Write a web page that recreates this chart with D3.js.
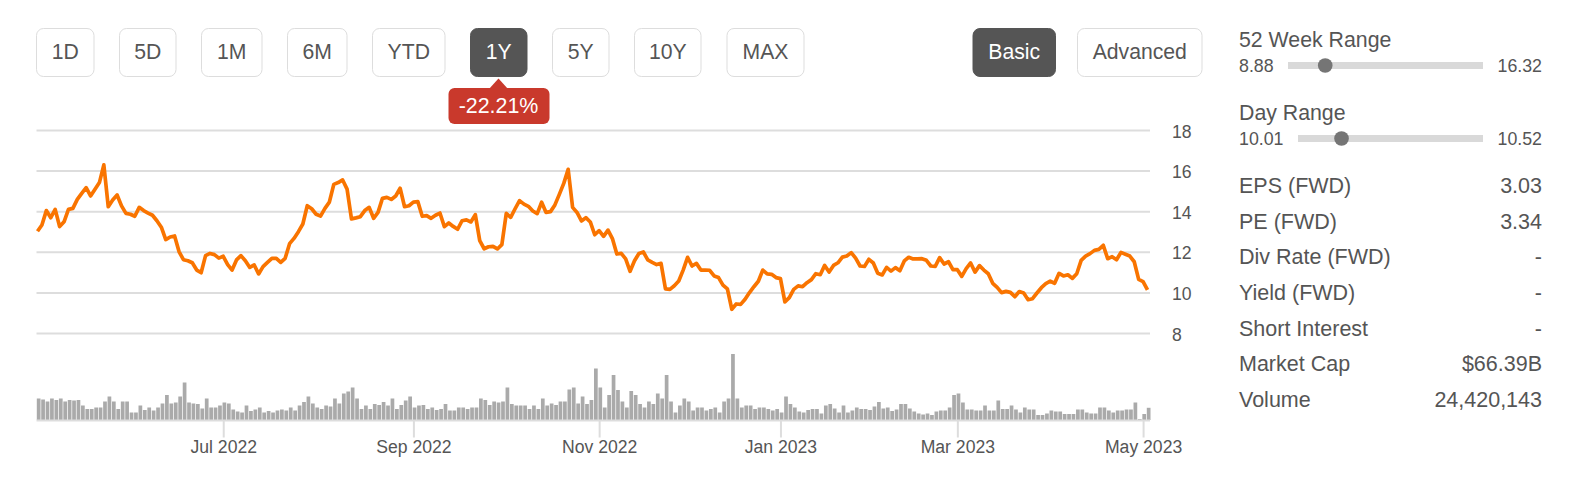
<!DOCTYPE html>
<html>
<head>
<meta charset="utf-8">
<script src="https://cdn.jsdelivr.net/npm/d3@7"></script>
<style>
  html, body { margin: 0; padding: 0; background: #fff; }
  text { font-family: "Liberation Sans", Arial, sans-serif; fill: #555; }
</style>
</head>
<body>
<div id="chart"></div>
<script>
const rangeLabels = ['1D', '5D', '1M', '6M', 'YTD', '1Y', '5Y', '10Y', 'MAX']
const modeLabels = ['Basic', 'Advanced']
const activeLabels = ['1Y', 'Basic']
const changeLabel = '-22.21%'

const priceTicks = [8, 10, 12, 14, 16, 18]
const dateTickDays = [42, 85, 127, 168, 208, 250]
const dateTickLabels = ['Jul 2022', 'Sep 2022', 'Nov 2022', 'Jan 2023', 'Mar 2023', 'May 2023']

// one close per trading day
const closes = [
  13.01,13.32,14.03,13.68,14.09,13.24,13.48,14.09,14.14,14.58,
  14.88,15.16,14.75,15.08,15.41,16.28,14.22,14.55,14.80,14.26,
  13.89,13.85,13.75,14.19,14.03,13.91,13.80,13.53,13.21,12.60,
  12.73,12.78,12.01,11.61,11.56,11.46,11.10,10.97,11.81,11.92,
  11.86,11.69,11.78,11.37,11.10,11.60,11.81,11.56,11.23,11.35,
  10.91,11.27,11.48,11.68,11.68,11.48,11.68,12.40,12.66,12.99,
  13.37,14.27,14.12,13.85,13.76,14.14,14.45,15.32,15.41,15.54,
  15.09,13.62,13.67,13.73,14.03,14.19,13.65,13.94,14.63,14.68,
  14.58,14.75,15.13,14.22,14.27,14.45,14.47,13.75,13.78,13.65,
  13.80,13.91,13.24,13.42,13.25,13.11,13.53,13.57,13.47,13.83,
  12.55,12.15,12.25,12.27,12.14,12.35,13.89,13.70,14.12,14.52,
  14.35,14.24,14.01,13.88,14.44,13.94,13.98,14.31,14.83,15.37,
  16.06,14.19,13.94,13.52,13.68,13.47,12.84,13.04,12.76,13.07,
  12.65,11.89,11.92,11.65,11.04,11.56,11.92,11.99,11.60,11.48,
  11.37,11.43,10.17,10.15,10.33,10.56,11.10,11.73,11.30,11.43,
  11.10,11.10,11.09,10.81,10.73,10.36,10.17,9.17,9.43,9.41,
  9.66,9.99,10.28,10.55,11.10,10.91,10.89,10.73,10.68,9.53,
  9.74,10.15,10.32,10.28,10.48,10.63,10.92,10.87,11.33,11.00,
  11.33,11.46,11.74,11.79,11.96,11.69,11.30,11.28,11.63,11.45,
  10.94,10.86,11.23,11.05,11.22,11.07,11.55,11.73,11.65,11.65,
  11.66,11.58,11.30,11.28,11.71,11.40,11.51,11.12,11.12,10.79,
  11.17,11.45,11.00,11.32,11.10,10.92,10.45,10.25,9.99,10.05,
  10.00,9.79,10.04,9.97,9.64,9.69,9.97,10.23,10.43,10.55,
  10.45,10.94,10.81,10.87,10.69,10.92,11.58,11.79,11.91,12.07,
  12.12,12.32,11.66,11.76,11.61,11.97,11.88,11.79,11.51,10.64,
  10.53,10.12
]

// volume in millions of shares
const volumes = [
  43,41,37,43,40,43,37,40,39,40,29,22,22,25,25,37,47,37,22,37,37,15,15,29,20,25,19,25,33,50,33,35,47,75,
  35,33,32,23,43,25,25,29,35,33,21,17,15,29,18,21,25,15,18,15,19,21,19,25,19,29,36,47,33,25,22,29,27,
  43,33,53,57,65,43,22,29,22,32,30,36,29,43,22,30,39,47,25,
  29,30,22,25,20,22,32,19,19,25,25,22,25,25,43,40,30,37,35,37,65,32,29,29,29,22,29,22,43,29,33,30,37,37,61,65,33,47,32,40,
  103,65,25,50,90,60,37,25,58,50,32,25,37,32,53,43,90,37,15,29,43,37,19,25,25,19,22,25,15,37,43,132,43,25,29,29,22,25,25,22,19,22,15,47,32,
  25,17,15,20,22,22,13,29,32,23,15,29,15,19,25,22,22,20,27,36,23,25,18,21,32,32,23,17,13,11,
  13,10,17,19,19,25,50,53,35,21,21,19,19,29,19,19,39,22,22,29,21,15,25,21,21,10,10,13,19,17,
  17,12,12,12,21,21,15,13,13,25,25,19,15,19,19,21,21,35,2,12,24.42
]

const rangeTitles = ['52 Week Range', 'Day Range']
const rangeLows = [8.88, 10.01]
const rangeHighs = [16.32, 10.52]
const rangeMarkers = [10.3, 10.13]

const statNames = ['EPS (FWD)', 'PE (FWD)', 'Div Rate (FWD)', 'Yield (FWD)', 'Short Interest', 'Market Cap', 'Volume']
const statValues = ['3.03', '3.34', '-', '-', '-', '$66.39B', '24,420,143']

const width = 1587
const height = 479
const days = d3.range(closes.length)

const svg = d3.select('#chart').append('svg')
  .attr('width', width)
  .attr('height', height)
  .style('display', 'block')

// buttons across the top
const buttonEdges = [[36.5, 94], [119.5, 176], [201.5, 262], [287.5, 347], [372.5, 445], [470.5, 527], [552.5, 609], [634.5, 701], [727, 804], [973, 1055.5], [1077.5, 1202]]
const buttons = svg.append('g')
  .selectAll('g')
  .data(rangeLabels.concat(modeLabels))
  .join('g')
  .attr('transform', (d, i) => `translate(${buttonEdges[i][0]}, 28.5)`)

buttons.append('rect')
  .attr('width', (d, i) => buttonEdges[i][1] - buttonEdges[i][0])
  .attr('height', 48)
  .attr('rx', 7)
  .attr('fill', d => activeLabels.includes(d) ? '#555' : '#fff')
  .attr('stroke', d => activeLabels.includes(d) ? '#555' : '#ddd')

buttons.append('text')
  .attr('x', (d, i) => (buttonEdges[i][1] - buttonEdges[i][0]) / 2)
  .attr('y', 30)
  .attr('text-anchor', 'middle')
  .style('font-size', '21.2px')
  .style('fill', d => activeLabels.includes(d) ? '#fff' : '#555')
  .text(d => d)

// change badge under the active button
const badge = svg.append('g')
badge.append('path')
  .attr('d', d3.line()([[489, 89], [498.5, 78.5], [508, 89]]))
  .attr('fill', '#c9392c')
badge.append('rect')
  .attr('x', 448.5)
  .attr('y', 88)
  .attr('width', 101)
  .attr('height', 36)
  .attr('rx', 6)
  .attr('fill', '#c9392c')
badge.append('text')
  .attr('x', 498.5)
  .attr('y', 113)
  .attr('text-anchor', 'middle')
  .style('font-size', '21.4px')
  .style('fill', '#fff')
  .text(changeLabel)

// price panel
const x = d3.scaleLinear().domain([0, closes.length - 1]).range([37.5, 1147.5])
const y = d3.scaleLinear().domain([8, 18]).range([333, 130])

const yAxis = svg.append('g')
  .attr('transform', 'translate(1150, 0)')
  .call(d3.axisLeft(y).tickValues(priceTicks).tickSize(1150 - 36.5).tickFormat(d3.format('d')))
yAxis.select('.domain').remove()
yAxis.selectAll('line').attr('stroke', '#ddd').attr('stroke-width', 2)
yAxis.selectAll('text')
  .attr('x', 22)
  .attr('y', 1.5)
  .attr('text-anchor', 'start')
  .style('font-size', '17.6px')
  .style('font-family', null)

svg.append('path')
  .datum(closes)
  .attr('fill', 'none')
  .attr('stroke', '#f97400')
  .attr('stroke-width', 3.7)
  .attr('stroke-linejoin', 'round')
  .attr('d', d3.line().x((d, i) => x(i)).y(d => y(d)))

// volume panel
const xBand = d3.scaleBand().domain(days).range([36.8, 1150.5]).paddingInner(0.16)
const yVolume = d3.scaleLinear().domain([0, 150]).range([420, 345])

svg.append('g')
  .selectAll('rect')
  .data(volumes)
  .join('rect')
  .attr('x', (d, i) => xBand(i))
  .attr('y', d => yVolume(d))
  .attr('width', xBand.bandwidth())
  .attr('height', d => yVolume(0) - yVolume(d))
  .attr('fill', '#aaa')

const xAxis = svg.append('g')
  .attr('transform', 'translate(0, 420.5)')
  .call(d3.axisBottom(x).tickValues(dateTickDays).tickSize(17).tickPadding(3)
    .tickFormat((d, i) => dateTickLabels[i]))
xAxis.select('.domain').remove()
xAxis.selectAll('line').attr('stroke', '#ddd').attr('stroke-width', 2)
xAxis.selectAll('text').style('font-size', '17.6px').style('font-family', null)

svg.append('line')
  .attr('x1', 36.5)
  .attr('x2', 1150)
  .attr('y1', 420.5)
  .attr('y2', 420.5)
  .attr('stroke', '#ddd')
  .attr('stroke-width', 2)

// range sliders on the right
const sliderTops = [47.5, 120.5]
const sliderLefts = [1288, 1298]
const sliders = svg.append('g')
  .selectAll('g')
  .data(rangeTitles)
  .join('g')

sliders.append('text')
  .attr('x', 1239)
  .attr('y', (d, i) => sliderTops[i] - 1)
  .style('font-size', '21.3px')
  .text(d => d)
sliders.append('text')
  .attr('x', 1239)
  .attr('y', (d, i) => sliderTops[i] + 24)
  .style('font-size', '17.8px')
  .text((d, i) => rangeLows[i].toFixed(2))
sliders.append('text')
  .attr('x', 1542)
  .attr('y', (d, i) => sliderTops[i] + 24)
  .attr('text-anchor', 'end')
  .style('font-size', '17.8px')
  .text((d, i) => rangeHighs[i].toFixed(2))
sliders.append('rect')
  .attr('x', (d, i) => sliderLefts[i])
  .attr('y', (d, i) => sliderTops[i] + 14.5)
  .attr('width', (d, i) => 1483 - sliderLefts[i])
  .attr('height', 7)
  .attr('fill', '#d9d9d9')
sliders.append('circle')
  .attr('cx', (d, i) => d3.scaleLinear().domain([rangeLows[i], rangeHighs[i]]).range([sliderLefts[i], 1483])(rangeMarkers[i]))
  .attr('cy', (d, i) => sliderTops[i] + 18)
  .attr('r', 7.3)
  .attr('fill', '#757575')

// stats table
const statRows = d3.scalePoint().domain(statNames).range([193, 407])
const stats = svg.append('g')
  .selectAll('g')
  .data(statNames)
  .join('g')
  .attr('transform', d => `translate(0, ${statRows(d)})`)

stats.append('text')
  .attr('x', 1239)
  .style('font-size', '21.5px')
  .text(d => d)
stats.append('text')
  .attr('x', 1542)
  .attr('text-anchor', 'end')
  .style('font-size', '21.5px')
  .text((d, i) => statValues[i])
</script>
</body>
</html>
